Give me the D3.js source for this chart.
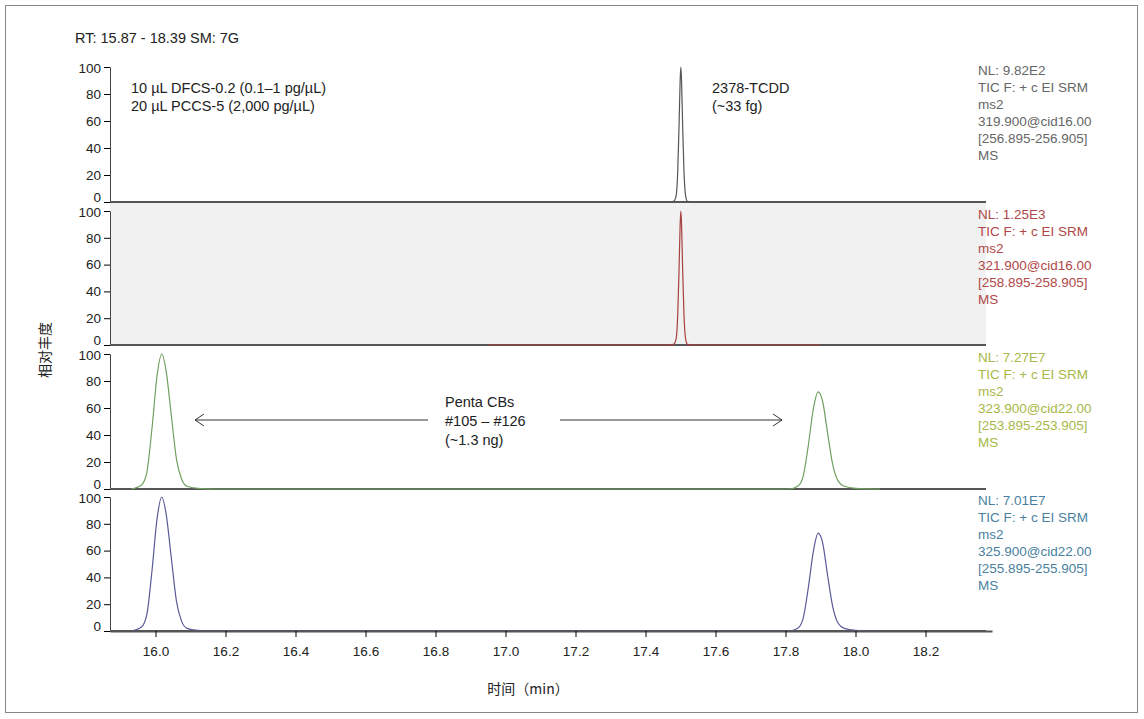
<!DOCTYPE html><html><head><meta charset="utf-8"><script src="https://cdn.jsdelivr.net/npm/d3@7"></script>
<style>body{margin:0;background:#fff}text{font-family:Arial,"Liberation Sans",sans-serif}</style></head><body><svg id="c" width="1144" height="719"></svg>
<script>
const xDomain=[15.87,18.39];
const xTicks=[16.0,16.2,16.4,16.6,16.8,17.0,17.2,17.4,17.6,17.8,18.0,18.2];
const yTicks=[0,20,40,60,80,100];
// [time, relative abundance]
const tcdd319=[[16.95,0],[17.46,0],[17.48,0.5],[17.487,4],[17.492,22],[17.496,58],[17.499,90],[17.501,100],[17.503,90],[17.506,58],[17.510,22],[17.515,4],[17.52,0.5],[17.54,0],[17.9,0]];
const tcdd321=[[16.95,0],[17.46,0],[17.48,0.5],[17.487,4],[17.492,22],[17.496,58],[17.499,90],[17.501,100],[17.503,90],[17.506,58],[17.510,22],[17.515,4],[17.52,0.5],[17.54,0],[17.9,0]];
const pcb323=[[15.93,0],[15.96,3],[15.975,12],[15.99,45],[16.005,85],[16.018,100],[16.03,88],[16.045,55],[16.06,22],[16.075,7],[16.09,2],[16.12,0.5],[16.17,0],
 [17.81,0],[17.835,2],[17.85,9],[17.865,32],[17.88,60],[17.893,72],[17.906,65],[17.92,42],[17.935,18],[17.95,6],[17.968,2],[18.0,0.5],[18.07,0]];
const pcb325=[[15.93,0],[15.96,3],[15.975,12],[15.99,45],[16.005,85],[16.018,100],[16.03,88],[16.045,55],[16.06,22],[16.075,7],[16.09,2],[16.12,0.5],[16.17,0],
 [17.81,0],[17.835,2],[17.85,9],[17.865,32],[17.88,60],[17.893,73],[17.906,66],[17.92,42],[17.935,18],[17.95,6],[17.968,2],[18.0,0.5],[18.07,0]];
const series=[tcdd319,tcdd321,pcb323,pcb325];
const lineColors=["#555","#a84040","#70a060","#5a5a98"];
const labelColors=["#666","#b04848","#a8b848","#4a7fa0"];
const labels=[
 ["NL: 9.82E2","TIC F: + c EI SRM","ms2","319.900@cid16.00","[256.895-256.905]","MS"],
 ["NL: 1.25E3","TIC F: + c EI SRM","ms2","321.900@cid16.00","[258.895-258.905]","MS"],
 ["NL: 7.27E7","TIC F: + c EI SRM","ms2","323.900@cid22.00","[253.895-253.905]","MS"],
 ["NL: 7.01E7","TIC F: + c EI SRM","ms2","325.900@cid22.00","[255.895-255.905]","MS"]];
const svg=d3.select("#c");
svg.append("rect").attr("x",5.5).attr("y",5.5).attr("width",1132).attr("height",707).attr("fill","none").attr("stroke","#888");
const x=d3.scaleLinear().domain(xDomain).range([110,992]);
const panels=[[67,202],[211,345],[354,489],[497,631]];
svg.append("rect").attr("x",110).attr("y",203).attr("width",876).attr("height",142).attr("fill","#f1f1f1");
panels.forEach((p,i)=>{
  const y=d3.scaleLinear().domain([0,100]).range([p[1],p[0]]);
  const g=svg.append("g").attr("transform","translate(110,0)");
  g.call(d3.axisLeft(y).tickValues(yTicks).tickSize(6).tickSizeOuter(0));
  g.selectAll("text").style("font-size","13.5px").attr("fill","#222").attr("dy",d=>d===0?"-0.05em":d===100?"0.4em":"0.32em");
  g.select(".domain").attr("stroke","#444");
  const line=d3.line().x(d=>x(d[0])).y(d=>y(d[1])).curve(d3.curveMonotoneX);
  svg.append("line").attr("x1",110).attr("x2",986).attr("y1",p[1]).attr("y2",p[1]).attr("stroke","#555").attr("stroke-width",2);
  svg.append("path").datum(series[i]).attr("d",line).attr("fill","none").attr("stroke",lineColors[i]).attr("stroke-width",1.2);
  const t=svg.append("text").attr("x",978).attr("y",p[0]+8).attr("fill",labelColors[i]).style("font-size","13.5px");
  labels[i].forEach((s,k)=>t.append("tspan").attr("x",978).attr("dy",k?17:0).text(s));
});
const xa=svg.append("g").attr("transform","translate(0,631)").call(d3.axisBottom(x).tickValues(xTicks).tickFormat(d3.format(".1f")).tickSize(6).tickSizeOuter(0));
xa.selectAll("text").style("font-size","13.5px").attr("fill","#222").attr("dy","1.2em");
xa.select(".domain").attr("stroke","#555").attr("stroke-width",2);
svg.append("text").attr("x",75).attr("y",43).style("font-size","14.5px").attr("fill","#222").text("RT: 15.87 - 18.39 SM: 7G");
const a=svg.append("text").attr("x",131).attr("y",93).style("font-size","14.5px").attr("fill","#222");
a.append("tspan").attr("x",131).text("10 µL DFCS-0.2 (0.1–1 pg/µL)");
a.append("tspan").attr("x",131).attr("dy",18).text("20 µL PCCS-5 (2,000 pg/µL)");
const b=svg.append("text").attr("x",712).attr("y",93).style("font-size","14.5px").attr("fill","#222");
b.append("tspan").attr("x",712).text("2378-TCDD");
b.append("tspan").attr("x",712).attr("dy",18).text("(~33 fg)");
const c=svg.append("text").attr("x",445).attr("y",407).style("font-size","14.5px").attr("fill","#222");
["Penta CBs","#105 – #126","(~1.3 ng)"].forEach((s,k)=>c.append("tspan").attr("x",445).attr("dy",k?19:0).text(s));
svg.append("line").attr("x1",195).attr("x2",428).attr("y1",420).attr("y2",420).attr("stroke","#333");
svg.append("path").attr("d","M204,414L195,420L204,426").attr("fill","none").attr("stroke","#333");
svg.append("line").attr("x1",560).attr("x2",782).attr("y1",420).attr("y2",420).attr("stroke","#333");
svg.append("path").attr("d","M773,414L782,420L773,426").attr("fill","none").attr("stroke","#333");
svg.append("text").attr("transform","translate(50,350) rotate(-90)").attr("text-anchor","middle").style("font-size","14px").style("font-family","Noto Sans CJK SC").attr("fill","#222").text("相对丰度");
svg.append("text").attr("x",528).attr("y",694).attr("text-anchor","middle").style("font-size","14px").style("font-family","Noto Sans CJK SC").attr("fill","#222").text("时间（min）");
</script></body></html>
